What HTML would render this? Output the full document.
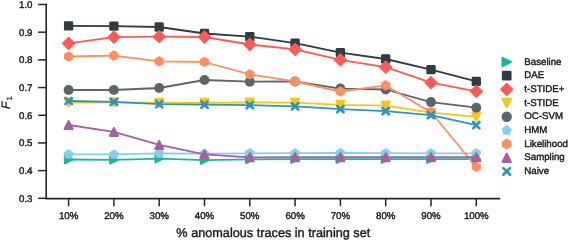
<!DOCTYPE html><html><head><meta charset="utf-8"><style>html,body{margin:0;padding:0;background:#fff}svg{display:block}text{font-family:"Liberation Sans",sans-serif;fill:#1a1a1a;stroke:#1a1a1a;stroke-width:0.4px;text-rendering:geometricPrecision}</style></head><body>
<svg width="568" height="240" viewBox="0 0 568 240">
<rect width="568" height="240" fill="#fff"/>
<polyline points="68.60,159.50 113.90,159.80 159.20,158.70 204.50,160.10 249.80,159.30 295.10,159.10 340.40,159.10 385.70,159.20 431.00,159.20 476.30,159.20" fill="none" stroke="#1db5a1" stroke-width="1.8" stroke-linejoin="round"/>
<polygon points="64.82,155.72 72.38,159.50 64.82,163.28" fill="#1db5a1" stroke="#1db5a1" stroke-width="2.0" stroke-linejoin="round"/>
<polygon points="110.12,156.02 117.68,159.80 110.12,163.58" fill="#1db5a1" stroke="#1db5a1" stroke-width="2.0" stroke-linejoin="round"/>
<polygon points="155.42,154.92 162.98,158.70 155.42,162.48" fill="#1db5a1" stroke="#1db5a1" stroke-width="2.0" stroke-linejoin="round"/>
<polygon points="200.72,156.32 208.28,160.10 200.72,163.88" fill="#1db5a1" stroke="#1db5a1" stroke-width="2.0" stroke-linejoin="round"/>
<polygon points="246.02,155.52 253.58,159.30 246.02,163.08" fill="#1db5a1" stroke="#1db5a1" stroke-width="2.0" stroke-linejoin="round"/>
<polygon points="291.32,155.32 298.88,159.10 291.32,162.88" fill="#1db5a1" stroke="#1db5a1" stroke-width="2.0" stroke-linejoin="round"/>
<polygon points="336.62,155.32 344.18,159.10 336.62,162.88" fill="#1db5a1" stroke="#1db5a1" stroke-width="2.0" stroke-linejoin="round"/>
<polygon points="381.92,155.42 389.48,159.20 381.92,162.98" fill="#1db5a1" stroke="#1db5a1" stroke-width="2.0" stroke-linejoin="round"/>
<polygon points="427.22,155.42 434.78,159.20 427.22,162.98" fill="#1db5a1" stroke="#1db5a1" stroke-width="2.0" stroke-linejoin="round"/>
<polygon points="472.52,155.42 480.08,159.20 472.52,162.98" fill="#1db5a1" stroke="#1db5a1" stroke-width="2.0" stroke-linejoin="round"/>
<polyline points="68.60,25.80 113.90,26.20 159.20,27.00 204.50,33.50 249.80,36.70 295.10,43.20 340.40,52.70 385.70,59.00 431.00,69.60 476.30,81.30" fill="none" stroke="#303c42" stroke-width="1.8" stroke-linejoin="round"/>
<rect x="63.94" y="21.14" width="9.31" height="9.31" rx="1.3" fill="#303c42"/>
<rect x="109.24" y="21.54" width="9.31" height="9.31" rx="1.3" fill="#303c42"/>
<rect x="154.54" y="22.34" width="9.31" height="9.31" rx="1.3" fill="#303c42"/>
<rect x="199.84" y="28.84" width="9.31" height="9.31" rx="1.3" fill="#303c42"/>
<rect x="245.14" y="32.04" width="9.31" height="9.31" rx="1.3" fill="#303c42"/>
<rect x="290.44" y="38.54" width="9.31" height="9.31" rx="1.3" fill="#303c42"/>
<rect x="335.74" y="48.04" width="9.31" height="9.31" rx="1.3" fill="#303c42"/>
<rect x="381.04" y="54.34" width="9.31" height="9.31" rx="1.3" fill="#303c42"/>
<rect x="426.34" y="64.94" width="9.31" height="9.31" rx="1.3" fill="#303c42"/>
<rect x="471.64" y="76.64" width="9.31" height="9.31" rx="1.3" fill="#303c42"/>
<polyline points="68.60,43.40 113.90,37.20 159.20,36.70 204.50,37.00 249.80,44.50 295.10,49.40 340.40,59.90 385.70,67.20 431.00,82.60 476.30,91.40" fill="none" stroke="#fb5b58" stroke-width="1.8" stroke-linejoin="round"/>
<polygon points="68.60,37.59 74.41,43.40 68.60,49.21 62.79,43.40" fill="#fb5b58" stroke="#fb5b58" stroke-width="1.6" stroke-linejoin="round"/>
<polygon points="113.90,31.39 119.71,37.20 113.90,43.01 108.09,37.20" fill="#fb5b58" stroke="#fb5b58" stroke-width="1.6" stroke-linejoin="round"/>
<polygon points="159.20,30.89 165.01,36.70 159.20,42.51 153.39,36.70" fill="#fb5b58" stroke="#fb5b58" stroke-width="1.6" stroke-linejoin="round"/>
<polygon points="204.50,31.19 210.31,37.00 204.50,42.81 198.69,37.00" fill="#fb5b58" stroke="#fb5b58" stroke-width="1.6" stroke-linejoin="round"/>
<polygon points="249.80,38.69 255.61,44.50 249.80,50.31 243.99,44.50" fill="#fb5b58" stroke="#fb5b58" stroke-width="1.6" stroke-linejoin="round"/>
<polygon points="295.10,43.59 300.91,49.40 295.10,55.21 289.29,49.40" fill="#fb5b58" stroke="#fb5b58" stroke-width="1.6" stroke-linejoin="round"/>
<polygon points="340.40,54.09 346.21,59.90 340.40,65.71 334.59,59.90" fill="#fb5b58" stroke="#fb5b58" stroke-width="1.6" stroke-linejoin="round"/>
<polygon points="385.70,61.39 391.51,67.20 385.70,73.01 379.89,67.20" fill="#fb5b58" stroke="#fb5b58" stroke-width="1.6" stroke-linejoin="round"/>
<polygon points="431.00,76.79 436.81,82.60 431.00,88.41 425.19,82.60" fill="#fb5b58" stroke="#fb5b58" stroke-width="1.6" stroke-linejoin="round"/>
<polygon points="476.30,85.59 482.11,91.40 476.30,97.21 470.49,91.40" fill="#fb5b58" stroke="#fb5b58" stroke-width="1.6" stroke-linejoin="round"/>
<polyline points="68.60,102.50 113.90,102.30 159.20,102.90 204.50,102.80 249.80,102.50 295.10,102.70 340.40,104.90 385.70,105.60 431.00,112.70 476.30,116.90" fill="none" stroke="#f6c619" stroke-width="1.8" stroke-linejoin="round"/>
<polygon points="64.57,98.47 72.63,98.47 68.60,106.53" fill="#f6c619" stroke="#f6c619" stroke-width="2.0" stroke-linejoin="round"/>
<polygon points="109.87,98.27 117.93,98.27 113.90,106.33" fill="#f6c619" stroke="#f6c619" stroke-width="2.0" stroke-linejoin="round"/>
<polygon points="155.17,98.87 163.23,98.87 159.20,106.93" fill="#f6c619" stroke="#f6c619" stroke-width="2.0" stroke-linejoin="round"/>
<polygon points="200.47,98.77 208.53,98.77 204.50,106.83" fill="#f6c619" stroke="#f6c619" stroke-width="2.0" stroke-linejoin="round"/>
<polygon points="245.77,98.47 253.83,98.47 249.80,106.53" fill="#f6c619" stroke="#f6c619" stroke-width="2.0" stroke-linejoin="round"/>
<polygon points="291.07,98.67 299.13,98.67 295.10,106.73" fill="#f6c619" stroke="#f6c619" stroke-width="2.0" stroke-linejoin="round"/>
<polygon points="336.37,100.87 344.43,100.87 340.40,108.93" fill="#f6c619" stroke="#f6c619" stroke-width="2.0" stroke-linejoin="round"/>
<polygon points="381.67,101.57 389.73,101.57 385.70,109.63" fill="#f6c619" stroke="#f6c619" stroke-width="2.0" stroke-linejoin="round"/>
<polygon points="426.97,108.67 435.03,108.67 431.00,116.73" fill="#f6c619" stroke="#f6c619" stroke-width="2.0" stroke-linejoin="round"/>
<polygon points="472.27,112.87 480.33,112.87 476.30,120.93" fill="#f6c619" stroke="#f6c619" stroke-width="2.0" stroke-linejoin="round"/>
<polyline points="68.60,90.00 113.90,90.00 159.20,88.00 204.50,80.00 249.80,81.70 295.10,81.50 340.40,88.60 385.70,89.50 431.00,102.10 476.30,107.70" fill="none" stroke="#5c666a" stroke-width="1.8" stroke-linejoin="round"/>
<circle cx="68.60" cy="90.00" r="4.99" fill="#5c666a"/>
<circle cx="113.90" cy="90.00" r="4.99" fill="#5c666a"/>
<circle cx="159.20" cy="88.00" r="4.99" fill="#5c666a"/>
<circle cx="204.50" cy="80.00" r="4.99" fill="#5c666a"/>
<circle cx="249.80" cy="81.70" r="4.99" fill="#5c666a"/>
<circle cx="295.10" cy="81.50" r="4.99" fill="#5c666a"/>
<circle cx="340.40" cy="88.60" r="4.99" fill="#5c666a"/>
<circle cx="385.70" cy="89.50" r="4.99" fill="#5c666a"/>
<circle cx="431.00" cy="102.10" r="4.99" fill="#5c666a"/>
<circle cx="476.30" cy="107.70" r="4.99" fill="#5c666a"/>
<polyline points="68.60,154.30 113.90,154.40 159.20,153.40 204.50,153.60 249.80,153.30 295.10,153.20 340.40,153.00 385.70,153.20 431.00,153.30 476.30,153.30" fill="none" stroke="#84d0ec" stroke-width="1.8" stroke-linejoin="round"/>
<polygon points="68.60,149.98 72.71,152.97 71.14,157.79 66.06,157.79 64.49,152.97" fill="#84d0ec" stroke="#84d0ec" stroke-width="1.5" stroke-linejoin="round"/>
<polygon points="113.90,150.08 118.01,153.07 116.44,157.89 111.36,157.89 109.79,153.07" fill="#84d0ec" stroke="#84d0ec" stroke-width="1.5" stroke-linejoin="round"/>
<polygon points="159.20,149.08 163.31,152.07 161.74,156.89 156.66,156.89 155.09,152.07" fill="#84d0ec" stroke="#84d0ec" stroke-width="1.5" stroke-linejoin="round"/>
<polygon points="204.50,149.28 208.61,152.27 207.04,157.09 201.96,157.09 200.39,152.27" fill="#84d0ec" stroke="#84d0ec" stroke-width="1.5" stroke-linejoin="round"/>
<polygon points="249.80,148.98 253.91,151.97 252.34,156.79 247.26,156.79 245.69,151.97" fill="#84d0ec" stroke="#84d0ec" stroke-width="1.5" stroke-linejoin="round"/>
<polygon points="295.10,148.88 299.21,151.87 297.64,156.69 292.56,156.69 290.99,151.87" fill="#84d0ec" stroke="#84d0ec" stroke-width="1.5" stroke-linejoin="round"/>
<polygon points="340.40,148.68 344.51,151.67 342.94,156.49 337.86,156.49 336.29,151.67" fill="#84d0ec" stroke="#84d0ec" stroke-width="1.5" stroke-linejoin="round"/>
<polygon points="385.70,148.88 389.81,151.87 388.24,156.69 383.16,156.69 381.59,151.87" fill="#84d0ec" stroke="#84d0ec" stroke-width="1.5" stroke-linejoin="round"/>
<polygon points="431.00,148.98 435.11,151.97 433.54,156.79 428.46,156.79 426.89,151.97" fill="#84d0ec" stroke="#84d0ec" stroke-width="1.5" stroke-linejoin="round"/>
<polygon points="476.30,148.98 480.41,151.97 478.84,156.79 473.76,156.79 472.19,151.97" fill="#84d0ec" stroke="#84d0ec" stroke-width="1.5" stroke-linejoin="round"/>
<polyline points="68.60,56.50 113.90,55.60 159.20,61.30 204.50,62.00 249.80,74.30 295.10,81.50 340.40,91.50 385.70,85.40 431.00,112.20 476.30,167.00" fill="none" stroke="#fc9163" stroke-width="1.8" stroke-linejoin="round"/>
<polygon points="68.60,52.08 72.42,54.29 72.42,58.71 68.60,60.92 64.78,58.71 64.78,54.29" fill="#fc9163" stroke="#fc9163" stroke-width="1.5" stroke-linejoin="round"/>
<polygon points="113.90,51.18 117.72,53.39 117.72,57.81 113.90,60.02 110.08,57.81 110.08,53.39" fill="#fc9163" stroke="#fc9163" stroke-width="1.5" stroke-linejoin="round"/>
<polygon points="159.20,56.88 163.02,59.09 163.02,63.51 159.20,65.72 155.38,63.51 155.38,59.09" fill="#fc9163" stroke="#fc9163" stroke-width="1.5" stroke-linejoin="round"/>
<polygon points="204.50,57.58 208.32,59.79 208.32,64.21 204.50,66.42 200.68,64.21 200.68,59.79" fill="#fc9163" stroke="#fc9163" stroke-width="1.5" stroke-linejoin="round"/>
<polygon points="249.80,69.88 253.62,72.09 253.62,76.51 249.80,78.72 245.98,76.51 245.98,72.09" fill="#fc9163" stroke="#fc9163" stroke-width="1.5" stroke-linejoin="round"/>
<polygon points="295.10,77.08 298.92,79.29 298.92,83.71 295.10,85.92 291.28,83.71 291.28,79.29" fill="#fc9163" stroke="#fc9163" stroke-width="1.5" stroke-linejoin="round"/>
<polygon points="340.40,87.08 344.22,89.29 344.22,93.71 340.40,95.92 336.58,93.71 336.58,89.29" fill="#fc9163" stroke="#fc9163" stroke-width="1.5" stroke-linejoin="round"/>
<polygon points="385.70,80.98 389.52,83.19 389.52,87.61 385.70,89.82 381.88,87.61 381.88,83.19" fill="#fc9163" stroke="#fc9163" stroke-width="1.5" stroke-linejoin="round"/>
<polygon points="431.00,107.78 434.82,109.99 434.82,114.41 431.00,116.62 427.18,114.41 427.18,109.99" fill="#fc9163" stroke="#fc9163" stroke-width="1.5" stroke-linejoin="round"/>
<polygon points="476.30,162.58 480.12,164.79 480.12,169.21 476.30,171.42 472.48,169.21 472.48,164.79" fill="#fc9163" stroke="#fc9163" stroke-width="1.5" stroke-linejoin="round"/>
<polyline points="68.60,125.00 113.90,131.90 159.20,144.90 204.50,154.40 249.80,157.30 295.10,157.10 340.40,157.10 385.70,157.20 431.00,157.20 476.30,157.20" fill="none" stroke="#a6619f" stroke-width="1.8" stroke-linejoin="round"/>
<polygon points="64.57,129.03 72.63,129.03 68.60,120.97" fill="#a6619f" stroke="#a6619f" stroke-width="2.0" stroke-linejoin="round"/>
<polygon points="109.87,135.93 117.93,135.93 113.90,127.87" fill="#a6619f" stroke="#a6619f" stroke-width="2.0" stroke-linejoin="round"/>
<polygon points="155.17,148.93 163.23,148.93 159.20,140.87" fill="#a6619f" stroke="#a6619f" stroke-width="2.0" stroke-linejoin="round"/>
<polygon points="200.47,158.43 208.53,158.43 204.50,150.37" fill="#a6619f" stroke="#a6619f" stroke-width="2.0" stroke-linejoin="round"/>
<polygon points="245.77,161.33 253.83,161.33 249.80,153.27" fill="#a6619f" stroke="#a6619f" stroke-width="2.0" stroke-linejoin="round"/>
<polygon points="291.07,161.13 299.13,161.13 295.10,153.07" fill="#a6619f" stroke="#a6619f" stroke-width="2.0" stroke-linejoin="round"/>
<polygon points="336.37,161.13 344.43,161.13 340.40,153.07" fill="#a6619f" stroke="#a6619f" stroke-width="2.0" stroke-linejoin="round"/>
<polygon points="381.67,161.23 389.73,161.23 385.70,153.17" fill="#a6619f" stroke="#a6619f" stroke-width="2.0" stroke-linejoin="round"/>
<polygon points="426.97,161.23 435.03,161.23 431.00,153.17" fill="#a6619f" stroke="#a6619f" stroke-width="2.0" stroke-linejoin="round"/>
<polygon points="472.27,161.23 480.33,161.23 476.30,153.17" fill="#a6619f" stroke="#a6619f" stroke-width="2.0" stroke-linejoin="round"/>
<polyline points="68.60,101.00 113.90,101.90 159.20,104.20 204.50,104.70 249.80,105.10 295.10,106.40 340.40,109.10 385.70,111.10 431.00,115.10 476.30,125.20" fill="none" stroke="#2e95b6" stroke-width="1.8" stroke-linejoin="round"/>
<path d="M65.43,97.83 L71.77,104.17 M65.43,104.17 L71.77,97.83" stroke="#2e95b6" stroke-width="2.7" stroke-linecap="round" fill="none"/>
<path d="M110.73,98.73 L117.07,105.07 M110.73,105.07 L117.07,98.73" stroke="#2e95b6" stroke-width="2.7" stroke-linecap="round" fill="none"/>
<path d="M156.03,101.03 L162.37,107.37 M156.03,107.37 L162.37,101.03" stroke="#2e95b6" stroke-width="2.7" stroke-linecap="round" fill="none"/>
<path d="M201.33,101.53 L207.67,107.87 M201.33,107.87 L207.67,101.53" stroke="#2e95b6" stroke-width="2.7" stroke-linecap="round" fill="none"/>
<path d="M246.63,101.93 L252.97,108.27 M246.63,108.27 L252.97,101.93" stroke="#2e95b6" stroke-width="2.7" stroke-linecap="round" fill="none"/>
<path d="M291.93,103.23 L298.27,109.57 M291.93,109.57 L298.27,103.23" stroke="#2e95b6" stroke-width="2.7" stroke-linecap="round" fill="none"/>
<path d="M337.23,105.93 L343.57,112.27 M337.23,112.27 L343.57,105.93" stroke="#2e95b6" stroke-width="2.7" stroke-linecap="round" fill="none"/>
<path d="M382.53,107.93 L388.87,114.27 M382.53,114.27 L388.87,107.93" stroke="#2e95b6" stroke-width="2.7" stroke-linecap="round" fill="none"/>
<path d="M427.83,111.93 L434.17,118.27 M427.83,118.27 L434.17,111.93" stroke="#2e95b6" stroke-width="2.7" stroke-linecap="round" fill="none"/>
<path d="M473.13,122.03 L479.47,128.37 M473.13,128.37 L479.47,122.03" stroke="#2e95b6" stroke-width="2.7" stroke-linecap="round" fill="none"/>
<path d="M46.2,3.75 V198.6 H500.2" fill="none" stroke="#262626" stroke-width="1.6" stroke-linejoin="miter"/>
<line x1="38.1" x2="46.2" y1="198.30" y2="198.30" stroke="#262626" stroke-width="1.5"/>
<text x="32.5" y="201.75" font-size="9.7" text-anchor="end">0.3</text>
<line x1="38.1" x2="46.2" y1="170.61" y2="170.61" stroke="#262626" stroke-width="1.5"/>
<text x="32.5" y="174.06" font-size="9.7" text-anchor="end">0.4</text>
<line x1="38.1" x2="46.2" y1="142.93" y2="142.93" stroke="#262626" stroke-width="1.5"/>
<text x="32.5" y="146.38" font-size="9.7" text-anchor="end">0.5</text>
<line x1="38.1" x2="46.2" y1="115.24" y2="115.24" stroke="#262626" stroke-width="1.5"/>
<text x="32.5" y="118.69" font-size="9.7" text-anchor="end">0.6</text>
<line x1="38.1" x2="46.2" y1="87.56" y2="87.56" stroke="#262626" stroke-width="1.5"/>
<text x="32.5" y="91.01" font-size="9.7" text-anchor="end">0.7</text>
<line x1="38.1" x2="46.2" y1="59.87" y2="59.87" stroke="#262626" stroke-width="1.5"/>
<text x="32.5" y="63.32" font-size="9.7" text-anchor="end">0.8</text>
<line x1="38.1" x2="46.2" y1="32.19" y2="32.19" stroke="#262626" stroke-width="1.5"/>
<text x="32.5" y="35.64" font-size="9.7" text-anchor="end">0.9</text>
<line x1="38.1" x2="46.2" y1="4.50" y2="4.50" stroke="#262626" stroke-width="1.5"/>
<text x="32.5" y="7.95" font-size="9.7" text-anchor="end">1.0</text>
<line x1="68.60" x2="68.60" y1="198.6" y2="206.2" stroke="#262626" stroke-width="1.5"/>
<text x="68.60" y="219.2" font-size="9.7" text-anchor="middle">10%</text>
<line x1="113.90" x2="113.90" y1="198.6" y2="206.2" stroke="#262626" stroke-width="1.5"/>
<text x="113.90" y="219.2" font-size="9.7" text-anchor="middle">20%</text>
<line x1="159.20" x2="159.20" y1="198.6" y2="206.2" stroke="#262626" stroke-width="1.5"/>
<text x="159.20" y="219.2" font-size="9.7" text-anchor="middle">30%</text>
<line x1="204.50" x2="204.50" y1="198.6" y2="206.2" stroke="#262626" stroke-width="1.5"/>
<text x="204.50" y="219.2" font-size="9.7" text-anchor="middle">40%</text>
<line x1="249.80" x2="249.80" y1="198.6" y2="206.2" stroke="#262626" stroke-width="1.5"/>
<text x="249.80" y="219.2" font-size="9.7" text-anchor="middle">50%</text>
<line x1="295.10" x2="295.10" y1="198.6" y2="206.2" stroke="#262626" stroke-width="1.5"/>
<text x="295.10" y="219.2" font-size="9.7" text-anchor="middle">60%</text>
<line x1="340.40" x2="340.40" y1="198.6" y2="206.2" stroke="#262626" stroke-width="1.5"/>
<text x="340.40" y="219.2" font-size="9.7" text-anchor="middle">70%</text>
<line x1="385.70" x2="385.70" y1="198.6" y2="206.2" stroke="#262626" stroke-width="1.5"/>
<text x="385.70" y="219.2" font-size="9.7" text-anchor="middle">80%</text>
<line x1="431.00" x2="431.00" y1="198.6" y2="206.2" stroke="#262626" stroke-width="1.5"/>
<text x="431.00" y="219.2" font-size="9.7" text-anchor="middle">90%</text>
<line x1="476.30" x2="476.30" y1="198.6" y2="206.2" stroke="#262626" stroke-width="1.5"/>
<text x="476.30" y="219.2" font-size="9.7" text-anchor="middle">100%</text>
<text x="273.3" y="237.3" font-size="12.7" text-anchor="middle">% anomalous traces in training set</text>
<text transform="translate(10.4,108.9) rotate(-90)" font-size="12.2" text-anchor="start" style="stroke-width:0.25px"><tspan font-style="italic">F</tspan><tspan font-size="7.6" dy="1.1" dx="1.0">1</tspan></text>
<polygon points="502.50,57.80 510.90,62.00 502.50,66.20" fill="#1db5a1" stroke="#1db5a1" stroke-width="2.0" stroke-linejoin="round"/>
<text x="524.3" y="64.70" font-size="9.7">Baseline</text>
<rect x="501.85" y="70.83" width="9.70" height="9.70" rx="1.3" fill="#303c42"/>
<text x="524.3" y="78.35" font-size="9.7">DAE</text>
<polygon points="506.70,83.66 512.40,89.36 506.70,95.06 501.00,89.36" fill="#fb5b58" stroke="#fb5b58" stroke-width="1.6" stroke-linejoin="round"/>
<text x="524.3" y="92.00" font-size="9.7">t-STIDE+</text>
<polygon points="502.50,98.84 510.90,98.84 506.70,107.24" fill="#f6c619" stroke="#f6c619" stroke-width="2.0" stroke-linejoin="round"/>
<text x="524.3" y="105.65" font-size="9.7">t-STIDE</text>
<circle cx="506.70" cy="116.72" r="5.20" fill="#5c666a"/>
<text x="524.3" y="119.30" font-size="9.7">OC-SVM</text>
<polygon points="506.70,125.90 510.98,129.01 509.35,134.04 504.05,134.04 502.42,129.01" fill="#84d0ec" stroke="#84d0ec" stroke-width="1.5" stroke-linejoin="round"/>
<text x="524.3" y="132.95" font-size="9.7">HMM</text>
<polygon points="506.70,139.48 510.68,141.78 510.68,146.38 506.70,148.68 502.72,146.38 502.72,141.78" fill="#fc9163" stroke="#fc9163" stroke-width="1.5" stroke-linejoin="round"/>
<text x="524.3" y="146.60" font-size="9.7">Likelihood</text>
<polygon points="502.50,161.96 510.90,161.96 506.70,153.56" fill="#a6619f" stroke="#a6619f" stroke-width="2.0" stroke-linejoin="round"/>
<text x="524.3" y="160.25" font-size="9.7">Sampling</text>
<path d="M503.40,168.14 L510.00,174.74 M503.40,174.74 L510.00,168.14" stroke="#2e95b6" stroke-width="2.7" stroke-linecap="round" fill="none"/>
<text x="524.3" y="173.90" font-size="9.7">Naive</text>
</svg></body></html>
